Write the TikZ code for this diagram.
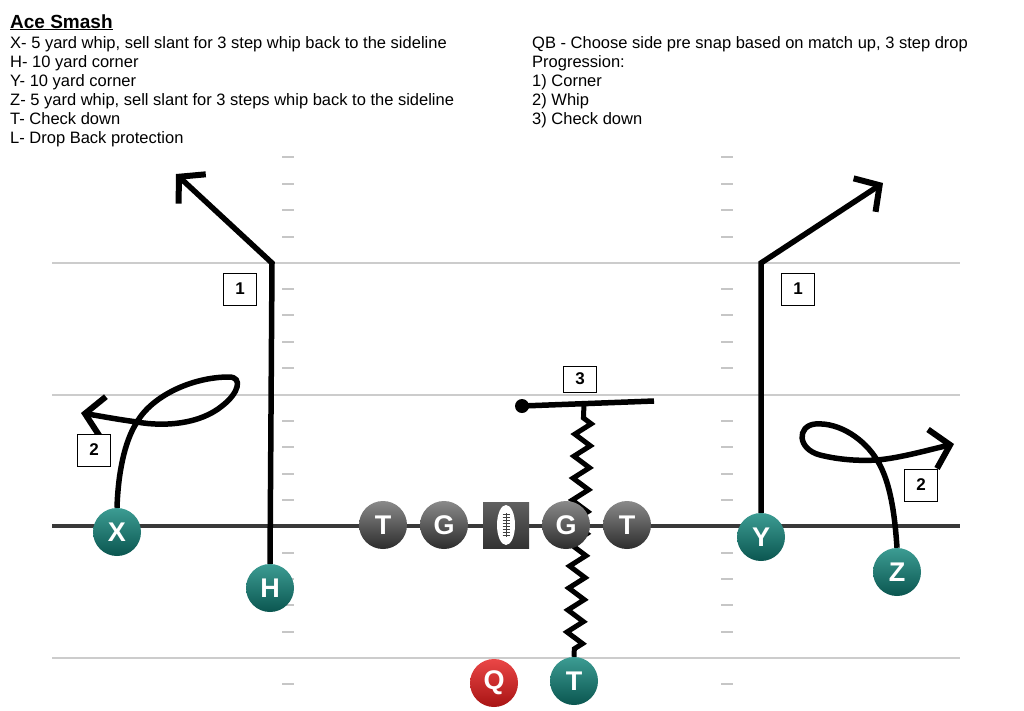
\documentclass[tikz,border=0pt]{standalone}
\usepackage{fontspec}
\setmainfont{Liberation Sans}
\usetikzlibrary{arrows.meta,decorations.pathmorphing,shapes.geometric}

\definecolor{tealtop}{HTML}{3C9C93}
\definecolor{tealbot}{HTML}{0B5650}
\definecolor{greytop}{HTML}{8A8A8A}
\definecolor{greybot}{HTML}{2C2C2C}
\definecolor{redtop}{HTML}{EA4646}
\definecolor{redbot}{HTML}{A81414}

\begin{document}
\begin{tikzpicture}[x=1pt,y=-1pt,
  player/.style={circle,minimum size=48pt,inner sep=0pt,text=white,
    font=\fontsize{27}{27}\selectfont\bfseries},
  skill/.style={player,top color=tealtop,bottom color=tealbot},
  lineman/.style={player,top color=greytop,bottom color=greybot},
  passer/.style={player,top color=redtop,bottom color=redbot},
  ballbox/.style={rectangle,minimum size=46pt,inner sep=0pt,top color=gray!75!black,bottom color=gray!40!black},
  route/.style={draw,line width=5.5pt,black},
  tip/.style={-{Straight Barb[length=18pt,width=40pt,line width=6pt]}},
  numbox/.style={draw,line width=0.8pt,fill=white,minimum width=33pt,minimum height=32pt,inner sep=0pt,
    font=\fontsize{17}{17}\selectfont\bfseries},
  hash/.style={gray!45,line width=1.3pt},
  yardline/.style={gray!40,line width=1.5pt},
  note/.style={anchor=base west,inner sep=0pt,font=\fontsize{16.5}{19}\selectfont}]

\useasboundingbox[fill=white] (0,0) rectangle (1024,710);

\foreach \y in {263,395,658}
  \draw[yardline] (52,\y) -- (960,\y);
\draw[gray!45!black,line width=3.5pt] (52,526) -- (960,526);
\foreach \y in {157,184,210,237,289,315,342,368,421,447,474,500,553,579,605,632,684} {
  \draw[hash] (282,\y) -- (294,\y);
  \draw[hash] (721,\y) -- (733,\y);
}

\node[note,font=\fontsize{19}{19}\selectfont\bfseries] (title) at (10,28) {\underline{Ace Smash}};
\foreach \y/\txt [count=\i] in {48/{X- 5 yard whip, sell slant for 3 step whip back to the sideline},
    67/{H- 10 yard corner}, 86/{Y- 10 yard corner},
    105/{Z- 5 yard whip, sell slant for 3 steps whip back to the sideline},
    124/{T- Check down}, 143/{L- Drop Back protection}}
  \node[note] (note\i) at (10,\y) {\txt};
\foreach \y/\txt [count=\i] in {48/{QB - Choose side pre snap based on match up, 3 step drop},
    67/{Progression:}, 86/{1) Corner}, 105/{2) Whip}, 124/{3) Check down}}
  \node[note] (qbnote\i) at (532,\y) {\txt};

\node[skill] (TB) at (574,681) {T};
\node[circle,fill=black,minimum size=14pt,inner sep=0pt] (dot) at (522,406) {};
\coordinate (flat) at (654,401);
\coordinate (drop) at (584,404);
\draw[route] (dot.center) -- (flat);
\draw[route,line width=5pt,decorate,decoration={zigzag,segment length=22pt,amplitude=8pt,pre length=14pt,post length=4pt}]
  (drop) -- (TB.north);

\node[skill] (X) at (117,532) {X};
\node[skill] (H) at (270,588) {H};
\node[lineman] (LT) at (383,525) {T};
\node[lineman] (LG) at (444,525) {G};
\node[ballbox] (C) at (506,525) {};
\node[ellipse,fill=white,minimum width=18pt,minimum height=40pt,inner sep=0pt] (ball) at (C) {};
\draw[gray!50!black,line width=0.8pt] ([yshift=12pt]ball.center) -- ([yshift=-12pt]ball.center);
\foreach \d in {-10,-7,...,11}
  \draw[gray!50!black,line width=0.7pt] ([xshift=-3.5pt,yshift=\d pt]ball.center) -- ([xshift=3.5pt,yshift=\d pt]ball.center);
\node[lineman] (RG) at (566,525) {G};
\node[lineman] (RT) at (627,525) {T};
\node[skill] (Y) at (761,537) {Y};
\node[skill] (Z) at (897,572) {Z};
\node[passer] (Q) at (494,683) {Q};

\coordinate (Hbreak) at (272,263);
\coordinate (Hend) at (176,174);
\draw[route,tip] (H.north) -- (Hbreak) -- (Hend);
\coordinate (Ybreak) at (761,263);
\coordinate (Yend) at (883,183);
\draw[route,tip] (Y.north) -- (Ybreak) -- (Yend);

\coordinate (Xcross) at (137,422);
\coordinate (Xend) at (81,413);
\draw[route,tip] (X.north) .. controls (118,475) and (124,442) .. (Xcross)
  .. controls (152,396) and (192,377) .. (229,377)
  .. controls (243,377) and (239,393) .. (222,406)
  .. controls (200,424) and (165,427) .. (Xcross)
  .. controls (115,419) and (100,416) .. (Xend);

\coordinate (Zcross) at (877,460);
\coordinate (Zend) at (954,444);
\draw[route,tip] (Z.north) .. controls (895,518) and (891,482) .. (Zcross)
  .. controls (865,440) and (840,422) .. (815,424)
  .. controls (797,426) and (797,449) .. (820,455)
  .. controls (840,460) and (860,461) .. (Zcross)
  .. controls (900,458) and (928,450) .. (Zend);

\node[numbox] (box1l) at (240,289) {1};
\node[numbox] (box1r) at (798,289) {1};
\node[numbox] (box2l) at (94,450) {2};
\node[numbox] (box2r) at (921,485) {2};
\node[numbox,minimum height=26pt] (box3) at (580,379) {3};
\end{tikzpicture}
\end{document}
